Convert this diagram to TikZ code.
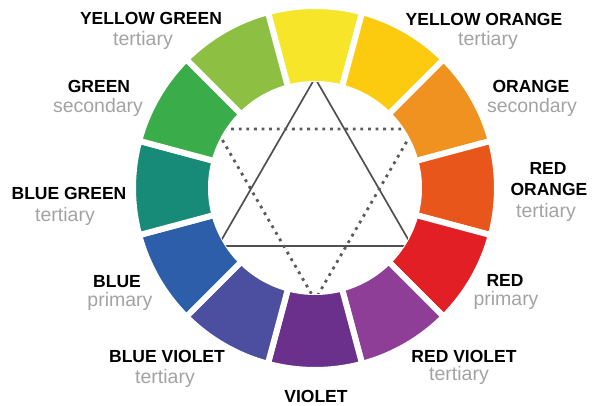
\documentclass[tikz,border=0pt]{standalone}
\usepackage{fontspec}
\setmainfont{Liberation Sans}
\usepackage{xcolor}
\usepackage{tikz}
\definecolor{cyellow}{HTML}{F7E52A}
\definecolor{cyelloworange}{HTML}{FCCB0F}
\definecolor{corange}{HTML}{F0921F}
\definecolor{credorange}{HTML}{E8561B}
\definecolor{cred}{HTML}{E31F26}
\definecolor{credviolet}{HTML}{8F3E98}
\definecolor{cviolet}{HTML}{6B2F8C}
\definecolor{cblueviolet}{HTML}{4C4E9F}
\definecolor{cblue}{HTML}{2C5EA9}
\definecolor{cbluegreen}{HTML}{178B77}
\definecolor{cgreen}{HTML}{3AAC4A}
\definecolor{cyellowgreen}{HTML}{8DC042}
\definecolor{kindgray}{HTML}{A3A3A3}
\definecolor{linegray}{HTML}{505050}
\definecolor{dotgray}{HTML}{5A5A5A}
\begin{document}
\begin{tikzpicture}[x=1pt,y=1pt]
\tikzstyle{every node}+=[inner sep=0pt]
\tikzstyle{seg}=[draw=white,line width=6,line join=miter]
\tikzstyle{colname}=[anchor=base,font=\bfseries\fontsize{17.5}{21}\selectfont]
\tikzstyle{kind}=[anchor=base,text=kindgray,text height=11,text depth=4,font=\fontsize{19.5}{21}\selectfont]
\useasboundingbox (-315,-218) rectangle (295,188);
% the wheel
\filldraw [seg,fill=cyellow] (75:104) arc (75:105:104) -- (105:182) arc (105:75:182) -- cycle;
\filldraw [seg,fill=cyelloworange] (45:104) arc (45:75:104) -- (75:182) arc (75:45:182) -- cycle;
\filldraw [seg,fill=corange] (15:104) arc (15:45:104) -- (45:182) arc (45:15:182) -- cycle;
\filldraw [seg,fill=credorange] (-15:104) arc (-15:15:104) -- (15:182) arc (15:-15:182) -- cycle;
\filldraw [seg,fill=cred] (-45:104) arc (-45:-15:104) -- (-15:182) arc (-15:-45:182) -- cycle;
\filldraw [seg,fill=credviolet] (-75:104) arc (-75:-45:104) -- (-45:182) arc (-45:-75:182) -- cycle;
\filldraw [seg,fill=cviolet] (-105:104) arc (-105:-75:104) -- (-75:182) arc (-75:-105:182) -- cycle;
\filldraw [seg,fill=cblueviolet] (-135:104) arc (-135:-105:104) -- (-105:182) arc (-105:-135:182) -- cycle;
\filldraw [seg,fill=cblue] (-165:104) arc (-165:-135:104) -- (-135:182) arc (-135:-165:182) -- cycle;
\filldraw [seg,fill=cbluegreen] (165:104) arc (165:195:104) -- (195:182) arc (195:165:182) -- cycle;
\filldraw [seg,fill=cgreen] (135:104) arc (135:165:104) -- (165:182) arc (165:135:182) -- cycle;
\filldraw [seg,fill=cyellowgreen] (105:104) arc (105:135:104) -- (135:182) arc (135:105:182) -- cycle;
% the two triangles
\begin{scope}
\clip (0,0) circle (106);
\draw [linegray,line width=1.7] (0,110) -- (-97,-58) -- (97,-58) -- cycle;
\draw [dotgray,line width=2.8,dash pattern=on 2.8pt off 4.8pt] (-99,59) -- (99,59) -- (0,-112) -- cycle;
\end{scope}
% labels
\node [colname] (yg) at (-164,163) {YELLOW GREEN};
\node [kind] (yg-k) at (-172,142) {tertiary};
\node [colname] (yo) at (169,162) {YELLOW ORANGE};
\node [kind] (yo-k) at (173,142) {tertiary};
\node [colname] (g) at (-216,95) {GREEN};
\node [kind] (g-k) at (-217,75) {secondary};
\node [colname] (o) at (216,95) {ORANGE};
\node [kind] (o-k) at (217,75) {secondary};
\node [colname] (bg) at (-246,-12) {BLUE GREEN};
\node [kind] (bg-k) at (-250,-34) {tertiary};
\node [colname] (ro1) at (233,13) {RED};
\node [colname] (ro2) at (234,-8) {ORANGE};
\node [kind] (ro-k) at (231,-30) {tertiary};
\node [colname] (b) at (-198,-100) {BLUE};
\node [kind] (b-k) at (-195,-119) {primary};
\node [colname] (r) at (190,-99) {RED};
\node [kind] (r-k) at (191,-118) {primary};
\node [colname] (bv) at (-148,-175) {BLUE VIOLET};
\node [kind] (bv-k) at (-150,-195) {tertiary};
\node [colname] (rv) at (149,-174) {RED VIOLET};
\node [kind] (rv-k) at (144,-192) {tertiary};
\node [colname] (v) at (1,-214) {VIOLET};
\end{tikzpicture}
\end{document}
